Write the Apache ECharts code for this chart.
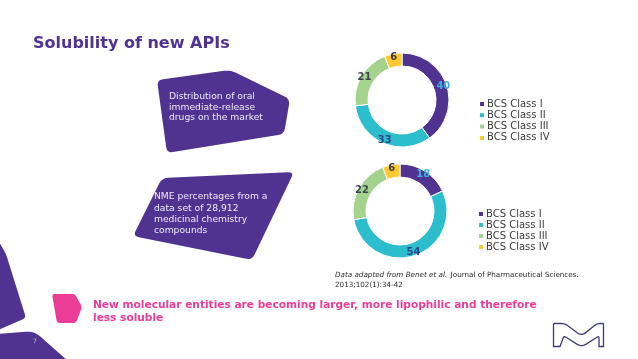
<!DOCTYPE html>
<html><head><meta charset="utf-8">
<script src="https://cdn.jsdelivr.net/npm/echarts@6/dist/echarts.min.js"></script>
<style>html,body{margin:0;padding:0;background:#fff}#c{width:638px;height:359px}</style>
</head><body><div id="c"></div>
<script>
const categories = ['BCS Class I', 'BCS Class II', 'BCS Class III', 'BCS Class IV'];
const marketValues = [40, 33, 21, 6];
const nmeValues = [18, 54, 22, 6];
const sliceColors = ['#503291', '#2dbecd', '#a5d28c', '#ffc832'];
const labelColors = ['#3fb0e0', '#2a4a8a', '#3c4650', '#3c3c3c'];

const chart = echarts.init(document.getElementById('c'), null, {renderer: 'canvas'});
const FONT = 'DejaVu Sans';

// rounded-corner polygon helper (decorative shapes only)
function roundPoly(pts, r) {
  const out = [];
  const n = pts.length;
  for (let i = 0; i < n; i++) {
    const p = pts[i], a = pts[(i - 1 + n) % n], b = pts[(i + 1) % n];
    const rr = p[2] === undefined ? r : p[2];
    if (rr <= 0) { out.push([p[0], p[1]]); continue; }
    const da = Math.hypot(a[0] - p[0], a[1] - p[1]), db = Math.hypot(b[0] - p[0], b[1] - p[1]);
    const ka = Math.min(rr, da / 2) / da, kb = Math.min(rr, db / 2) / db;
    const s = [p[0] + (a[0] - p[0]) * ka, p[1] + (a[1] - p[1]) * ka];
    const e = [p[0] + (b[0] - p[0]) * kb, p[1] + (b[1] - p[1]) * kb];
    for (let t = 0; t <= 1.0001; t += 0.2) {
      const u = 1 - t;
      out.push([u * u * s[0] + 2 * u * t * p[0] + t * t * e[0], u * u * s[1] + 2 * u * t * p[1] + t * t * e[1]]);
    }
  }
  return out;
}

function pieData(vals) {
  return vals.map((v, i) => ({
    name: categories[i], value: v,
    itemStyle: {color: sliceColors[i]},
    label: {color: labelColors[i]}
  }));
}
function pieSeries(vals, center) {
  return {
    type: 'pie', center: center, radius: [34, 47], startAngle: 90, clockwise: true,
    avoidLabelOverlap: false, silent: true,
    itemStyle: {borderColor: '#fff', borderWidth: 1},
    label: {show: true, position: 'inside', formatter: '{c}', fontFamily: FONT, fontSize: 10, fontWeight: 'bold'},
    labelLine: {show: false},
    data: pieData(vals)
  };
}
function legend(left, top, gap) {
  return {
    orient: 'vertical', left: left, top: top, data: categories,
    icon: 'rect', itemWidth: 6, itemHeight: 6, itemGap: gap,
    textStyle: {fontFamily: FONT, fontSize: 10, color: '#3c3c3c', padding: [0, 0, 0, -3]},
    selectedMode: false, padding: 0
  };
}

const purple = '#503291';
chart.setOption({
  animation: false,
  backgroundColor: '#ffffff',
  legend: [legend(478, 99, 1.3), legend(477, 209, 1)],
  series: [pieSeries(marketValues, [402, 100]), pieSeries(nmeValues, [400, 211])],
  graphic: [
    {type: 'text', x: 33, y: 36, style: {text: 'Solubility of new APIs', font: 'bold 16px ' + FONT, fill: purple}},
    {type: 'polygon', shape: {points: roundPoly([[157,80],[230,70],[290,99],[284,134],[167,153]], 6)}, style: {fill: purple}},
    {type: 'text', x: 169, y: 91, style: {text: 'Distribution of oral\nimmediate-release\ndrugs on the market', font: '9.2px ' + FONT, fill: '#f0ebfa', lineHeight: 10.8}},
    {type: 'polygon', shape: {points: roundPoly([[162,178],[294,172],[252,260],[133,236]], 6)}, style: {fill: purple}},
    {type: 'text', x: 154, y: 191.5, style: {text: 'NME percentages from a\ndata set of 28,912\nmedicinal chemistry\ncompounds', font: '9.2px ' + FONT, fill: '#f0ebfa', lineHeight: 11.1}},
    {type: 'polygon', shape: {points: roundPoly([[-2,240,0],[6,254,4],[26,318,4],[-2,330,0]], 4)}, style: {fill: purple}},
    {type: 'polygon', shape: {points: roundPoly([[-2,334,0],[34,331,8],[68,361,0],[-2,361,0]], 6)}, style: {fill: purple}},
    {type: 'text', x: 33, y: 338, style: {text: '7', font: '6px ' + FONT, fill: '#c8b4e6'}},
    {type: 'polygon', shape: {points: roundPoly([[52,294],[75,294],[82,307],[76,323],[57,323]], 3)}, style: {fill: '#eb3c96'}},
    {type: 'text', x: 93, y: 299, style: {text: 'New molecular entities are becoming larger, more lipophilic and therefore\nless soluble', font: 'bold 10.6px ' + FONT, fill: '#eb3c96', lineHeight: 12.5}},
    {type: 'text', x: 335, y: 269, style: {text: '{i|Data adapted from Benet et al.} {n|Journal of Pharmaceutical Sciences.}\n{n|2013;102(1):34-42}', rich: {i: {font: 'italic 7.2px ' + FONT, fill: '#2a2a2a', lineHeight: 8}, n: {font: '7.2px ' + FONT, fill: '#2a2a2a', lineHeight: 8}}}},
    {type: 'polygon', shape: {points: roundPoly([[553.5,346.5,0],[553.5,323.5,1],[565,323.5,4],[581.5,336,5],[597,323.5,4],[603.5,323.5,1],[603.5,346.5,0],[599,346.5,0],[599,336,2],[581.5,347,5],[564,336,2],[560,346.5,0]], 2)}, style: {fill: 'none', stroke: '#3c3c78', lineWidth: 1.3}}
  ]
});
</script></body></html>
